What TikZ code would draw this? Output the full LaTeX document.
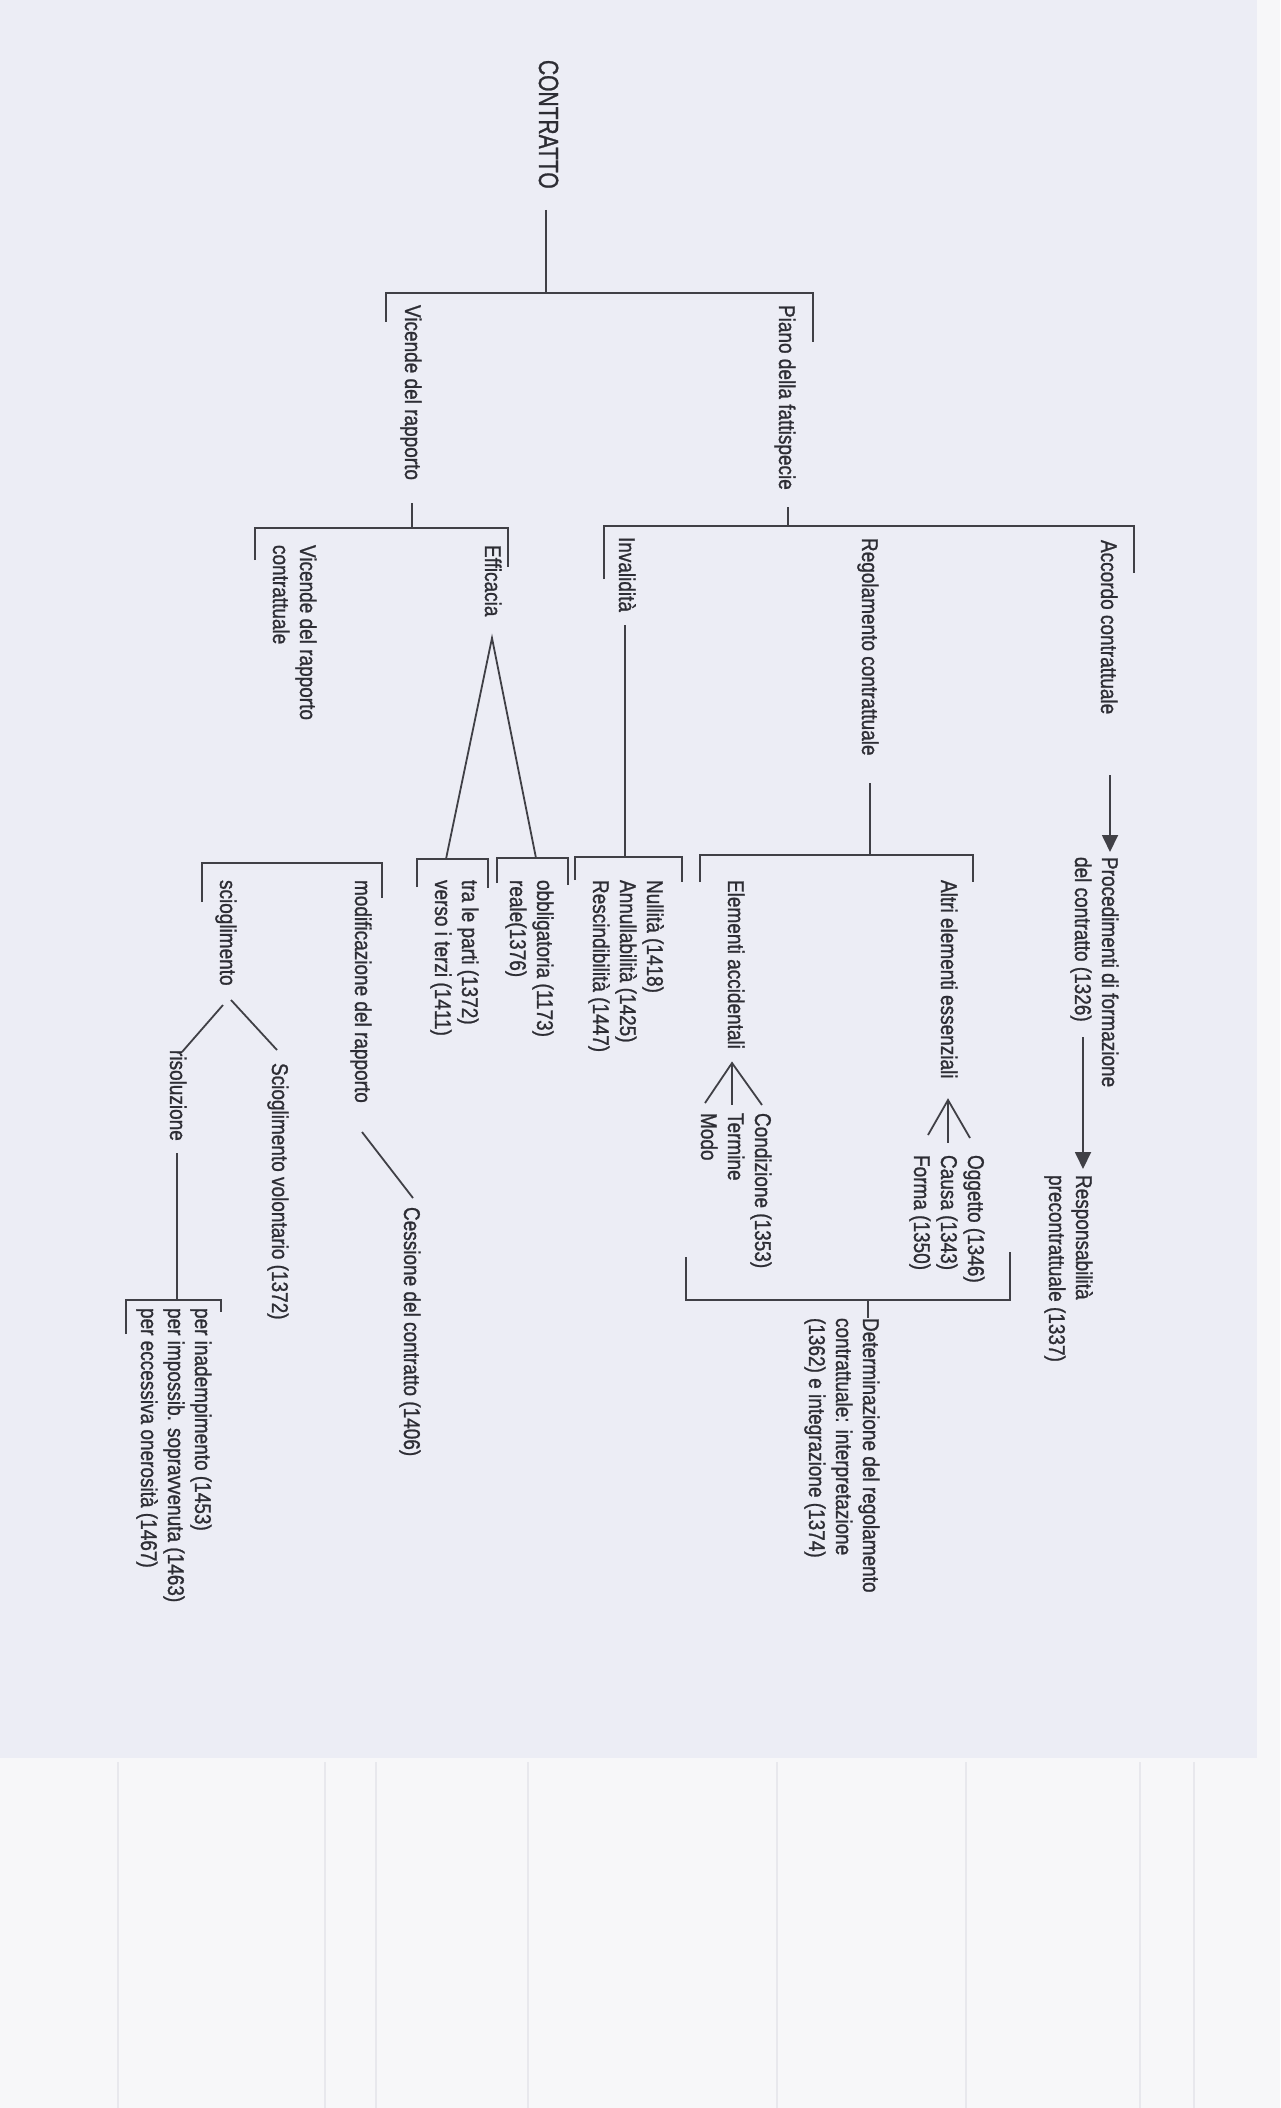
\documentclass[tikz,border=0pt]{standalone}
\usepackage{fontspec}
\setmainfont{Liberation Sans}
\newfontfamily\inkfont{Liberation Sans}[FakeBold=1.2]
\usetikzlibrary{arrows.meta}
\definecolor{paper}{RGB}{236,237,245}
\definecolor{margin}{RGB}{247,247,249}
\definecolor{faint}{RGB}{232,232,237}
\definecolor{ink}{RGB}{45,45,52}
\definecolor{lineink}{RGB}{64,64,70}
\newcommand{\mystrut}{\rule{0pt}{16pt}}
\tikzset{
  lbl/.style={rotate=-90, yscale=1.2, inner sep=0pt, outer sep=0pt, anchor=base west,
    text=ink, font=\inkfont\fontsize{19}{22.5}\selectfont},
  mlbl/.style={lbl, anchor=north west, align=left},
  ln/.style={draw=lineink, line width=1.8pt},
  arr/.style={ln, -{Triangle[width=16pt,length=17pt]}},
  edge/.style={draw=faint, line width=1.2pt}
}
\begin{document}
\begin{tikzpicture}[x=1pt,y=-1pt]
\useasboundingbox (0,0) rectangle (1280,2108);
\fill[margin] (0,0) rectangle (1280,2108);
\fill[paper] (0,0) rectangle (1257,1758);
\foreach \xx in {118,325,376,528,777,966,1140,1194}{
  \draw[edge] (\xx,1762) -- (\xx,2108);
}

% ---------- labels ----------
\node[lbl, font=\inkfont\fontsize{21}{24}\selectfont, yscale=1.1] (contratto) at (539,60) {CONTRATTO};
\node[lbl] (piano) at (779,305) {Piano della fattispecie};
\node[lbl] (vicende) at (405,305) {Vicende del rapporto};
\node[lbl] (accordo) at (1101,540) {Accordo contrattuale};
\node[lbl] (regol) at (862,538) {Regolamento contrattuale};
\node[lbl] (invalid) at (619,537) {Invalidità};
\node[lbl] (effic) at (485,545) {Efficacia};
\node[mlbl] (vicrap) at (319.2,545) {\mystrut Vicende del rapporto\\contrattuale};
\node[mlbl] (proc) at (1121.2,857) {\mystrut Procedimenti di formazione\\del contratto (1326)};
\node[mlbl] (resp) at (1095.2,1175) {\mystrut Responsabilità\\precontrattuale (1337)};
\node[lbl] (altri) at (941,880) {Altri elementi essenziali};
\node[mlbl] (ogg) at (987.2,1155) {\mystrut Oggetto (1346)\\Causa (1343)\\Forma (1350)};
\node[lbl] (elacc) at (728,880) {Elementi accidentali};
\node[mlbl] (cond) at (774.2,1113) {\mystrut Condizione (1353)\\Termine\\Modo};
\node[mlbl] (null) at (666.2,880) {\mystrut Nullità (1418)\\Annullabilità (1425)\\Rescindibilità (1447)};
\node[mlbl] (obbl) at (556.2,880) {\mystrut obbligatoria (1173)\\reale(1376)};
\node[mlbl] (parti) at (481.2,880) {\mystrut tra le parti (1372)\\verso i terzi (1411)};
\node[lbl] (modif) at (355,880) {modificazione del rapporto};
\node[lbl] (sciog) at (220,880) {scioglimento};
\node[lbl] (cess) at (404,1207) {Cessione del contratto (1406)};
\node[lbl] (volont) at (272,1063) {Scioglimento volontario (1372)};
\node[lbl] (risol) at (170,1050) {risoluzione};
\node[mlbl] (per) at (214.2,1308) {\mystrut per inadempimento (1453)\\per impossib. sopravvenuta (1463)\\per eccessiva onerosità (1467)};
\node[mlbl] (determ) at (882.2,1318) {\mystrut Determinazione del regolamento\\contrattuale: interpretazione\\(1362) e integrazione (1374)};

% ---------- coordinates ----------
\coordinate (contratto-o) at (546,210);
\coordinate (b1m) at (546,293);
\coordinate (b1l) at (386,322);  \coordinate (b1r) at (813,342);
\coordinate (piano-o) at (788,507); \coordinate (b2m) at (788,526);
\coordinate (b2l) at (604,579);  \coordinate (b2r) at (1134,573);
\coordinate (vic-o) at (412,503); \coordinate (b3m) at (412,528);
\coordinate (b3l) at (255,560);  \coordinate (b3r) at (508,567);
\coordinate (acc-o) at (1110,775); \coordinate (acc-t) at (1110,852);
\coordinate (proc-o) at (1083,1037); \coordinate (proc-t) at (1083,1169);
\coordinate (reg-o) at (870,783); \coordinate (b4m) at (870,855);
\coordinate (b4l) at (700,882);  \coordinate (b4r) at (973,882);
\coordinate (inv-o) at (625,625); \coordinate (b5m) at (625,857);
\coordinate (b5l) at (575,880);  \coordinate (b5r) at (682,882);
\coordinate (eff-a) at (492,638);
\coordinate (b6m) at (536,858);
\coordinate (b6l) at (497,883);  \coordinate (b6r) at (568,885);
\coordinate (b7m) at (446,859);
\coordinate (b7l) at (417,887);  \coordinate (b7r) at (488,888);
\coordinate (b8l) at (202,902);  \coordinate (b8r) at (382,898); \coordinate (b8m) at (292,863);
\coordinate (alt-a) at (948,1100);
\coordinate (alt-1) at (970,1138); \coordinate (alt-2) at (948,1143); \coordinate (alt-3) at (928,1135);
\coordinate (ela-a) at (732,1063);
\coordinate (ela-1) at (762,1105); \coordinate (ela-2) at (732,1105); \coordinate (ela-3) at (705,1103);
\coordinate (b9l) at (686,1257);  \coordinate (b9r) at (1010,1252); \coordinate (b9m) at (868,1300);
\coordinate (det-i) at (868,1318);
\coordinate (sc-a1) at (231,1000); \coordinate (sc-1) at (277,1050);
\coordinate (sc-a2) at (223,1005); \coordinate (sc-2) at (182,1052);
\coordinate (mod-o) at (362,1132); \coordinate (cess-i) at (413,1198);
\coordinate (ris-o) at (177,1153); \coordinate (b10m) at (177,1300);
\coordinate (b10l) at (126,1334); \coordinate (b10r) at (221,1312);

% ---------- connectors ----------
\draw[ln] (contratto-o) -- (b1m);
\draw[ln] (b1l) |- (b1m) -| (b1r);
\draw[ln] (piano-o) -- (b2m);
\draw[ln] (b2l) |- (b2m) -| (b2r);
\draw[ln] (vic-o) -- (b3m);
\draw[ln] (b3l) |- (b3m) -| (b3r);
\draw[arr] (acc-o) -- (acc-t);
\draw[arr] (proc-o) -- (proc-t);
\draw[ln] (reg-o) -- (b4m);
\draw[ln] (b4l) |- (b4m) -| (b4r);
\draw[ln] (inv-o) -- (b5m);
\draw[ln] (b5l) |- (b5m) -| (b5r);
\draw[ln] (b6l) |- (b6m) -| (b6r);
\draw[ln] (b7l) |- (b7m) -| (b7r);
\draw[ln] (b7m) -- (eff-a) -- (b6m);
\draw[ln] (b8l) |- (b8m) -| (b8r);
\draw[ln] (alt-1) -- (alt-a) -- (alt-3);
\draw[ln] (alt-a) -- (alt-2);
\draw[ln] (ela-1) -- (ela-a) -- (ela-3);
\draw[ln] (ela-a) -- (ela-2);
\draw[ln] (b9l) |- (b9m) -| (b9r);
\draw[ln] (b9m) -- (det-i);
\draw[ln] (sc-a1) -- (sc-1);
\draw[ln] (sc-a2) -- (sc-2);
\draw[ln] (mod-o) -- (cess-i);
\draw[ln] (ris-o) -- (b10m);
\draw[ln] (b10l) |- (b10m) -| (b10r);
\end{tikzpicture}
\end{document}
